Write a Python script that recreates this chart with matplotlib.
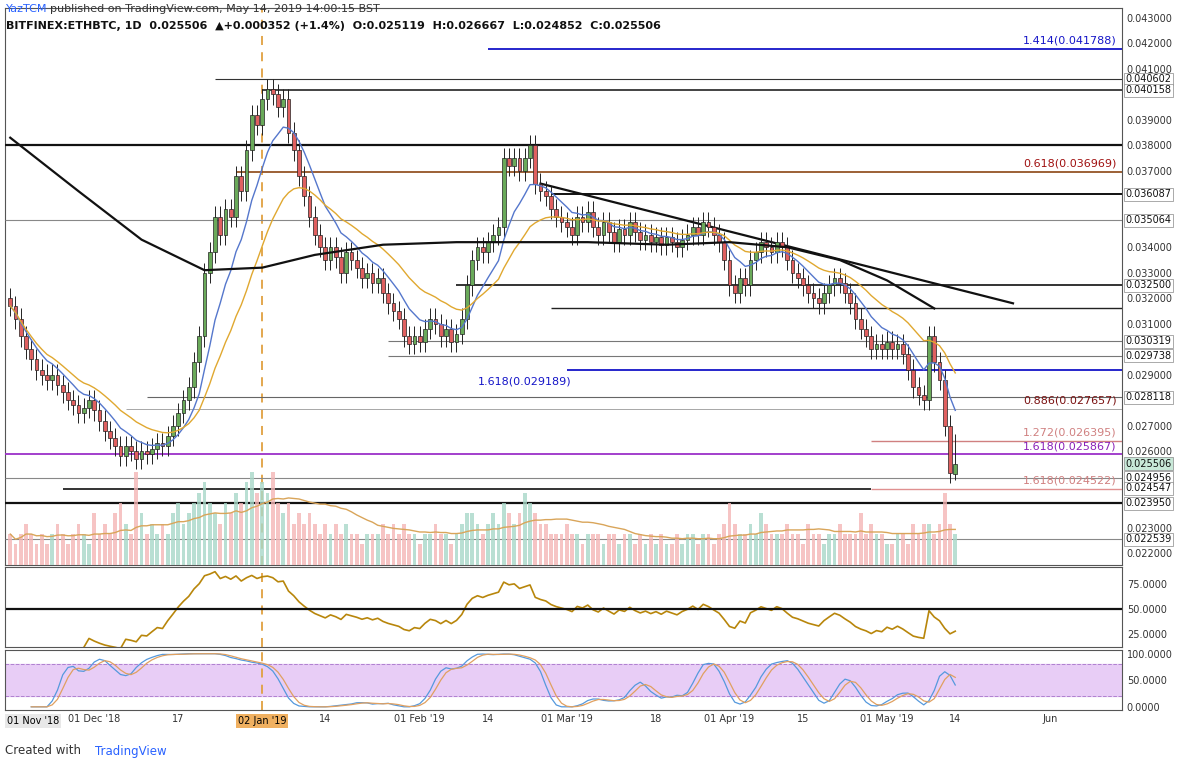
import numpy as np, pandas as pd, matplotlib
matplotlib.use('Agg')
import matplotlib.pyplot as plt
import matplotlib.dates as mdates
from matplotlib.transforms import blended_transform_factory as btf

closes = [.0317,.0312,.0305,.0300,.0296,.0292,.0290,
 .0288,.0290,.0286,.0283,.0280,.0278,.0275,
 .0277,.0280,.0276,.0272,.0268,.0265,.0262,
 .0258,.0262,.0260,.0257,.0260,.0259,.0261,
 .0263,.0262,.0266,.0270,.0275,.0280,.0285,
 .0295,.0305,.0330,.0338,.0352,.0345,.0355,
 .0352,.0368,.0362,.0378,.0392,.0388,.0398,
 .0402,.0400,.0395,.0398,.0385,.0378,.0368,
 .0360,.0352,.0345,.0340,.0335,.0340,.0336,
 .0330,.0338,.0335,.0332,.0328,.0330,.0326,
 .0328,.0322,.0318,.0315,.0312,.0305,.0302,
 .0305,.0303,.0308,.0312,.0310,.0305,.0308,
 .0303,.0306,.0312,.0325,.0335,.0340,.0338,
 .0342,.0345,.0348,.0375,.0372,.0375,.0370,
 .0375,.0380,.0365,.0362,.0360,.0355,.0352,
 .0350,.0348,.0345,.0352,.0350,.0354,.0348,
 .0345,.0350,.0346,.0342,.0347,.0345,.0350,
 .0346,.0343,.0345,.0342,.0344,.0341,.0344,
 .0342,.0340,.0343,.0345,.0348,.0345,.0350,
 .0348,.0345,.0342,.0335,.0325,.0322,.0328,
 .0325,.0335,.0338,.0342,.0340,.0338,.0342,
 .0340,.0335,.0330,.0328,.0325,.0322,.0320,
 .0318,.0322,.0325,.0328,.0326,.0322,.0318,
 .0312,.0308,.0305,.0300,.0302,.0300,.0303,
 .0300,.0302,.0298,.0292,.0285,.0282,.0280,
 .0305,.0295,.0288,.0270,.025154,.025506]
volumes = [3,2,3,4,3,2,3, 2,3,4,3,2,3,4, 3,2,5,3,4,3,5, 6,4,3,9,5,3,4,
 3,4,3,5,6,4,5, 6,7,8,6,5,4,6, 5,7,6,8,9,7,8, 7,9,6,5,6,4,5,
 4,5,4,3,4,3,4, 3,4,3,3,2,3,3, 3,4,3,4,3,4,3, 3,2,3,3,4,3,3,
 2,3,4,5,5,4,3, 4,5,4,6,5,4,5, 7,6,5,4,4,3,3, 3,4,3,3,2,3,3,
 3,2,3,3,2,3,3, 2,3,2,3,2,3,2, 2,3,2,3,3,2,3, 3,2,3,4,6,4,3,
 3,4,3,5,4,3,3, 3,4,3,3,2,4,3, 3,2,3,3,4,3,3, 3,5,3,4,3,3,2,
 2,3,3,2,4,3,4, 4,3,4,7,4,3]
dates = pd.date_range('2018-11-15', periods=len(closes), freq='D')
ma100_dates = pd.to_datetime(['2018-11-15','2018-11-28','2018-12-10','2018-12-22','2019-01-02','2019-01-12',
 '2019-01-25','2019-02-08','2019-02-20','2019-03-05','2019-03-20','2019-04-01','2019-04-12','2019-04-22','2019-05-01','2019-05-10'])
ma100_vals = [.0383,.0362,.0343,.0331,.0332,.0337,.0341,.0342,.0342,.0342,.0341,.0342,.0340,.0335,.0327,.0316]

c = pd.Series(closes, index=dates)
o = c.shift(1).fillna(c.iloc[0]+0.0003)
o.iloc[-1] = 0.025119
hi = np.maximum(o, c) + 0.0004; lo = np.minimum(o, c) - 0.0004
hi.iloc[-1]=0.026667; lo.iloc[-1]=0.024852
ema9 = c.ewm(span=9).mean(); ema21 = c.ewm(span=21).mean()
d = c.diff(); up = d.clip(lower=0).ewm(alpha=1/14, min_periods=4).mean(); dn = (-d.clip(upper=0)).ewm(alpha=1/14, min_periods=4).mean()
rsi = 100 - 100/(1+up/dn)
rmin = rsi.rolling(14, min_periods=1).min(); rmax = rsi.rolling(14, min_periods=1).max()
st = ((rsi-rmin)/(rmax-rmin+1e-9)*100).rolling(3, min_periods=1).mean()
k = st.rolling(3, min_periods=1).mean(); dd = k.rolling(3, min_periods=1).mean()
vol = pd.Series(volumes, index=dates); volma = vol.rolling(20, min_periods=1).mean()

fig = plt.figure(figsize=(11.78, 7.68), dpi=100)
L, W = 5/1178, 1117/1178
ax = fig.add_axes([L, 1-565/768, W, (565-8)/768])
ar = fig.add_axes([L, 1-647/768, W, 80/768], sharex=ax)
asx = fig.add_axes([L, 1-710/768, W, 60/768], sharex=ax)
x0 = mdates.date2num(pd.Timestamp('2018-11-14')); x1 = x0 + 1117/5.25
ax.set_ylim(0.02153, 0.04339)
xs = mdates.date2num(dates)
# volume
av = ax.twinx(); av.set_ylim(0, max(volumes)*6); av.axis('off')
vc = ['#f4b6b6' if cc < oo else '#a8d8c8' for cc, oo in zip(c, o)]
av.bar(xs, volumes, width=0.7, color=vc, alpha=0.8, zorder=0)
av.plot(xs, volma, color='#d9a55a', lw=1)
for a in (ax, ar, asx):
    a.set_xlim(x0, x1)
    a.yaxis.tick_right(); a.tick_params(labelsize=7, length=0, colors='#333')
    for s in a.spines.values(): s.set_color('#555'); s.set_linewidth(0.8)
    a.grid(False)
tr = btf(ax.transAxes, ax.transData)
def hl(y, xs0, color, lw=1.0):
    xa = x0 if xs0 is None else mdates.date2num(pd.Timestamp(xs0))
    ax.hlines(y, xa, x1, color=color, lw=lw, zorder=3)
hl(0.041788, '2019-02-14', '#1515c8', 1.3)
hl(0.040602, '2018-12-24', '#333', 0.8); hl(0.040158, '2019-01-02', '#222', 1.2)
hl(0.0380, None, '#111', 1.6); hl(0.036969, '2018-12-28', '#8b4513', 1.2)
hl(0.036087, '2019-02-26', '#111', 1.4); hl(0.035064, None, '#888', 0.8)
hl(0.03250, '2019-02-08', '#111', 1.2); hl(0.0316, '2019-02-26', '#222', 1.0)
hl(0.030319, '2019-01-26', '#777', 0.8); hl(0.029738, '2019-01-26', '#777', 0.8)
hl(0.029189, '2019-03-01', '#1515c8', 1.3); hl(0.028118, '2018-12-11', '#666', 0.8)
hl(0.027657, '2018-12-07', '#999', 0.6)
hl(0.026395, '2019-04-28', '#d08080', 1.0); hl(0.025867, None, '#9b30c8', 1.3)
hl(0.024956, None, '#888', 0.8); hl(0.024522, '2019-04-28', '#e09090', 1.0)
ax.hlines(0.02452, mdates.date2num(pd.Timestamp('2018-11-25')), mdates.date2num(pd.Timestamp('2019-04-28')), color='#111', lw=1.2)
hl(0.02395, None, '#111', 1.6); hl(0.022539, None, '#888', 0.8)
for a in (ax, ar, asx):
    a.axvline(mdates.date2num(pd.Timestamp('2019-01-02')), color='#e0a040', ls=(0,(5,4)), lw=1.3)
tl = pd.to_datetime(['2019-02-24', '2019-05-25'])
ax.plot(mdates.date2num(tl), [0.0365, 0.0318], color='#111', lw=1.6, zorder=4)
lbls = [(0.041788, '1.414(0.041788)', '#1515c8'), (0.036969, '0.618(0.036969)', '#a01010'),
        (0.027657, '0.886(0.027657)', '#7a1010'), (0.026395, '1.272(0.026395)', '#d08080'),
        (0.025867, '1.618(0.025867)', '#8a20b8'), (0.024522, '1.618(0.024522)', '#d08080')]
for y, t, col in lbls:
    ax.text(0.995, y+0.00012, t, transform=tr, ha='right', va='bottom', fontsize=8, color=col)
ax.text(mdates.date2num(pd.Timestamp('2019-02-21')), 0.02893, '1.618(0.029189)', ha='center', va='top', fontsize=8, color='#1515c8')
for xi, oo, cc, h, l in zip(xs, o, c, hi, lo):
    col = '#e06060' if cc < oo else '#6aaa5a'
    ax.vlines(xi, l, h, color='#222', lw=0.7, zorder=5)
    ax.bar(xi, max(abs(cc-oo), 0.00003), bottom=min(oo, cc), width=0.7, color=col, edgecolor='#222', lw=0.5, zorder=6)
ax.plot(xs, ema9, color='#5577cc', lw=1, zorder=7)
ax.plot(xs, ema21, color='#e0a830', lw=1, zorder=7)
ax.plot(mdates.date2num(ma100_dates), ma100_vals, color='#111', lw=1.6, zorder=7)
ticks = [0.043,0.042,0.041,0.039,0.038,0.037,0.034,0.033,0.032,0.031,0.029,0.027,0.026,0.023,0.022]
ax.set_yticks(ticks); ax.set_yticklabels([f'{t:.6f}' for t in ticks])
for y in [0.040602,0.040158,0.036087,0.035064,0.03250,0.030319,0.029738,0.028118,0.024956,0.024547,0.02395,0.022539]:
    ax.text(1.003, y, f'{y:.6f}', transform=tr, fontsize=7, va='center', ha='left', color='#111',
            bbox=dict(boxstyle='square,pad=0.15', fc='white', ec='#888', lw=0.5), clip_on=False, zorder=10)
ax.text(1.003, 0.025506, '0.025506', transform=tr, fontsize=7, va='center', ha='left', color='#111',
        bbox=dict(boxstyle='square,pad=0.15', fc='#c8e8d8', ec='#888', lw=0.5), clip_on=False, zorder=10)
ar.set_ylim(12, 92)
ar.plot(xs, rsi, color='#b8860b', lw=1.2)
ar.axhline(50, color='#111', lw=1.6)
ar.set_yticks([25, 50, 75]); ar.set_yticklabels(['25.0000', '50.0000', '75.0000'])
asx.set_ylim(-6, 107)
asx.axhspan(20, 80, color='#e6c8f5', alpha=0.9, zorder=0)
asx.axhline(80, color='#b080d0', lw=0.7, ls='--'); asx.axhline(20, color='#b080d0', lw=0.7, ls='--')
asx.plot(xs, k, color='#5599dd', lw=0.9); asx.plot(xs, dd, color='#e0a060', lw=0.9)
asx.set_yticks([0, 50, 100]); asx.set_yticklabels(['0.0000', '50.0000', '100.0000'])
plt.setp(ax.get_xticklabels(), visible=False); plt.setp(ar.get_xticklabels(), visible=False)
td = pd.to_datetime(['2018-12-01','2018-12-17','2019-01-14','2019-02-01','2019-02-14','2019-03-01','2019-03-18','2019-04-01','2019-04-15','2019-05-01','2019-05-14','2019-06-01'])
tlab = ["01 Dec '18",'17','14',"01 Feb '19",'14',"01 Mar '19",'18',"01 Apr '19",'15',"01 May '19",'14','Jun']
asx.set_xticks(mdates.date2num(td)); asx.set_xticklabels(tlab, fontsize=7)
asx.tick_params(axis='x', pad=3)
asx.text(0.002, -0.18, "01 Nov '18", transform=asx.transAxes, fontsize=7, va='center',
         bbox=dict(boxstyle='square,pad=0.2', fc='#e8e8e8', ec='none'))
asx.text(mdates.date2num(pd.Timestamp('2019-01-02')), -0.18, "02 Jan '19", transform=btf(asx.transData, asx.transAxes),
         fontsize=7, ha='center', va='center', bbox=dict(boxstyle='square,pad=0.2', fc='#f0b060', ec='none'))
fig.text(6/1178, 1-9/768, 'YazTCM', color='#2962ff', fontsize=8, va='center')
fig.text(50/1178, 1-9/768, 'published on TradingView.com, May 14, 2019 14:00:15 BST', color='#333', fontsize=8, va='center')
fig.text(6/1178, 1-26/768, 'BITFINEX:ETHBTC, 1D  0.025506  ▲+0.000352 (+1.4%)  O:0.025119  H:0.026667  L:0.024852  C:0.025506',
         color='#111', fontsize=8, va='center', fontweight='bold')
fig.text(5/1178, 1-751/768, 'Created with', color='#333', fontsize=8.5, va='center')
fig.text(95/1178, 1-751/768, 'TradingView', color='#2962ff', fontsize=8.5, va='center')
fig.savefig('out.png', dpi=100, facecolor='white')
